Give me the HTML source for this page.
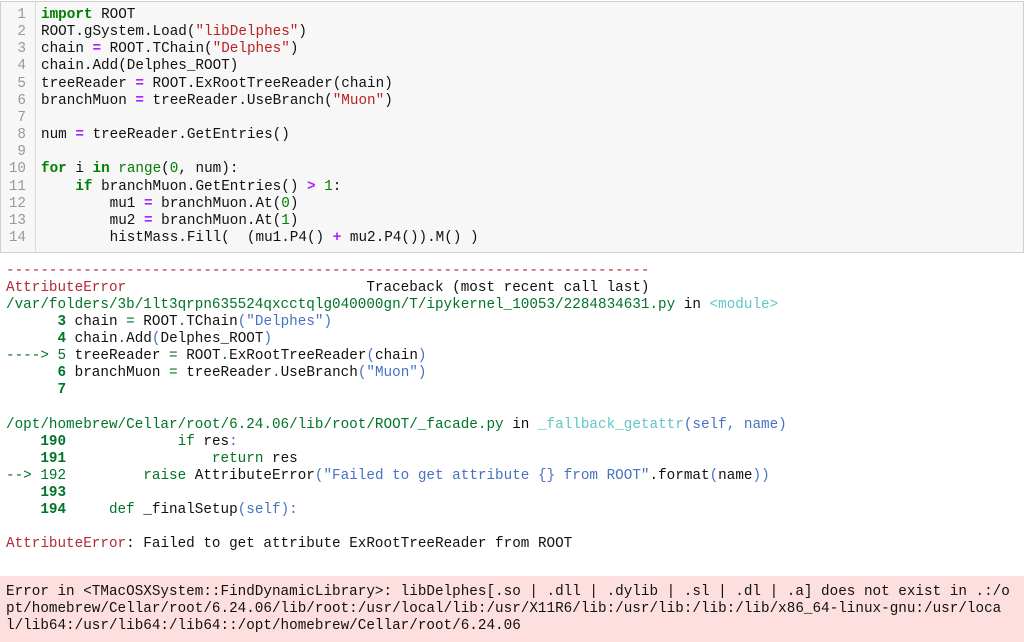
<!DOCTYPE html>
<html><head><meta charset="utf-8"><style>
body{margin:0;width:1024px;height:642px;background:#fff;position:relative;overflow:hidden;font-family:"Liberation Mono",monospace;}
pre{margin:0;font-family:"Liberation Mono",monospace;font-size:14.3px;position:absolute;white-space:pre;color:#111;}
.cell{position:absolute;left:0;top:1px;width:1022px;height:250px;background:#f7f7f7;border:1px solid #cfcfcf;}
.gut{position:absolute;left:35px;top:1px;width:1px;height:251px;background:#dcdcdc;}
.k{color:#008000;font-weight:bold}.s{color:#ba2121}.o{color:#aa22ff;font-weight:bold}.n{color:#008000}.b{color:#008000}
.ln{color:#999}
.r{color:#b22b31}.g{color:#007427}.c{color:#60c6c8}.ng{color:#007427;font-weight:bold}.bl{color:#4872c0}.tk{color:#007427}
.err{position:absolute;left:0;top:576px;width:1024px;height:66px;background:#fddfdf;}
</style></head><body>
<div class="cell"></div><div class="gut"></div>
<pre class="ln" style="left:6px;top:7px;line-height:17.15px;text-align:right;width:20px"> 1
 2
 3
 4
 5
 6
 7
 8
 9
10
11
12
13
14</pre>
<pre style="left:41px;top:7px;line-height:17.15px"><span class="k">import</span> ROOT
ROOT.gSystem.Load(<span class="s">"libDelphes"</span>)
chain <span class="o">=</span> ROOT.TChain(<span class="s">"Delphes"</span>)
chain.Add(Delphes_ROOT)
treeReader <span class="o">=</span> ROOT.ExRootTreeReader(chain)
branchMuon <span class="o">=</span> treeReader.UseBranch(<span class="s">"Muon"</span>)

num <span class="o">=</span> treeReader.GetEntries()

<span class="k">for</span> i <span class="k">in</span> <span class="b">range</span>(<span class="n">0</span>, num):
    <span class="k">if</span> branchMuon.GetEntries() <span class="o">&gt;</span> <span class="n">1</span>:
        mu1 <span class="o">=</span> branchMuon.At(<span class="n">0</span>)
        mu2 <span class="o">=</span> branchMuon.At(<span class="n">1</span>)
        histMass.Fill(  (mu1.P4() <span class="o">+</span> mu2.P4()).M() )</pre>
<pre style="left:6px;top:263px;line-height:17.07px"><span class="r">---------------------------------------------------------------------------</span>
<span class="r">AttributeError</span>                            Traceback (most recent call last)
<span class="g">/var/folders/3b/1lt3qrpn635524qxcctqlg040000gn/T/ipykernel_10053/2284834631.py</span> in <span class="c">&lt;module&gt;</span>
<span class="ng">      3</span> chain <span class="tk">=</span> ROOT<span class="tk">.</span>TChain<span class="bl">("Delphes")</span>
<span class="ng">      4</span> chain<span class="tk">.</span>Add<span class="bl">(</span>Delphes_ROOT<span class="bl">)</span>
<span class="g">----&gt; 5</span> treeReader <span class="tk">=</span> ROOT<span class="tk">.</span>ExRootTreeReader<span class="bl">(</span>chain<span class="bl">)</span>
<span class="ng">      6</span> branchMuon <span class="tk">=</span> treeReader<span class="tk">.</span>UseBranch<span class="bl">("Muon")</span>
<span class="ng">      7</span>

<span class="g">/opt/homebrew/Cellar/root/6.24.06/lib/root/ROOT/_facade.py</span> in <span class="c">_fallback_getattr</span><span class="bl">(self, name)</span>
<span class="ng">    190</span>             <span class="tk">if</span> res<span class="bl">:</span>
<span class="ng">    191</span>                 <span class="tk">return</span> res
<span class="g">--&gt; 192</span>         <span class="tk">raise</span> AttributeError<span class="bl">("Failed to get attribute {} from ROOT"</span>.format<span class="bl">(</span>name<span class="bl">))</span>
<span class="ng">    193</span>
<span class="ng">    194</span>     <span class="tk">def</span> _finalSetup<span class="bl">(self):</span>

<span class="r">AttributeError</span>: Failed to get attribute ExRootTreeReader from ROOT</pre>
<div class="err"></div>
<pre style="left:6px;top:584px;line-height:17px">Error in &lt;TMacOSXSystem::FindDynamicLibrary&gt;: libDelphes[.so | .dll | .dylib | .sl | .dl | .a] does not exist in .:/o
pt/homebrew/Cellar/root/6.24.06/lib/root:/usr/local/lib:/usr/X11R6/lib:/usr/lib:/lib:/lib/x86_64-linux-gnu:/usr/loca
l/lib64:/usr/lib64:/lib64::/opt/homebrew/Cellar/root/6.24.06</pre>
</body></html>
